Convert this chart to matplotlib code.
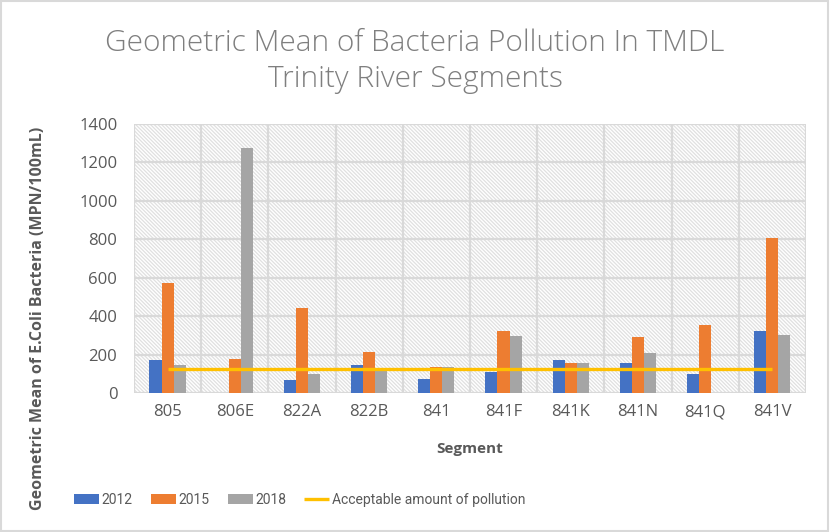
import matplotlib
matplotlib.use('Agg')
import matplotlib.pyplot as plt
import numpy as np
from matplotlib.patches import Rectangle

segments = ['805', '806E', '822A', '822B', '841', '841F', '841K', '841N', '841Q', '841V']
years = ['2012', '2015', '2018']
vals_2012 = [173, 0, 69, 147, 75, 110, 173, 158, 100, 324]
vals_2015 = [574, 178, 444, 215, 137, 324, 158, 293, 355, 808]
vals_2018 = [147, 1275, 100, 113, 137, 298, 158, 210, 0, 303]
acceptable = 126

bar_colors = ['#4472C4', '#ED7D31', '#A5A5A5']
line_color = '#FFC000'
text_color = '#595959'
grid_color = '#D9D9D9'

plt.rcParams['font.family'] = ['Open Sans', 'DejaVu Sans']
plt.rcParams['hatch.color'] = '#E0E0E0'
plt.rcParams['hatch.linewidth'] = 0.9

fig = plt.figure(figsize=(8.3, 5.32), dpi=100)
ax = fig.add_axes([0.1614, 0.2613, 0.8096, 0.5057])

x = np.arange(len(segments))
w = 0.18

# hatched plot area
ax.add_patch(Rectangle((0, 0), 1, 1, transform=ax.transAxes, facecolor='white',
                       hatch='\\' * 9, edgecolor='#E0E0E0', linewidth=0, zorder=0))

handles = []
for i, (vals, col) in enumerate(zip([vals_2012, vals_2015, vals_2018], bar_colors)):
    b = ax.bar(x + (i - 1) * w, vals, w, color=col, label=years[i], zorder=3)
    handles.append(b)

ln, = ax.plot(x, [acceptable] * len(x), color=line_color, lw=2.4, zorder=4,
              label='Acceptable amount of pollution', solid_capstyle='butt')
handles.append(ln)

ax.set_xlim(-0.5, len(segments) - 0.5)
ax.set_ylim(0, 1400)
ax.set_yticks(range(0, 1401, 200))
ax.set_xticks(x)
ax.set_xticklabels(segments)
for xv in np.arange(-0.5, len(segments), 1.0):
    ax.axvline(xv, color=grid_color, lw=1.6, zorder=1)
for yv in range(0, 1401, 200):
    ax.axhline(yv, color=grid_color, lw=1.6, zorder=1)
for s in ax.spines.values():
    s.set_visible(False)
ax.tick_params(length=0, labelsize=12, colors=text_color)
ax.tick_params(axis='x', pad=8)
ax.tick_params(axis='y', pad=12)

ax.set_xlabel('Segment', fontsize=11, fontweight='bold', color=text_color, labelpad=16)
fig.text(0.046, 0.402, 'Geometric Mean of E.Coli Bacteria (MPN/100mL)', rotation=90,
         ha='center', va='center', fontsize=11.5, fontweight='bold', color=text_color)

fig.text(0.5, 0.885, 'Geometric Mean of Bacteria Pollution In TMDL\nTrinity River Segments',
         ha='center', va='center', fontsize=21.5, color='#7F7F7F', fontweight='light',
         linespacing=1.3)

leg = fig.legend(handles, years + ['Acceptable amount of pollution'], loc='center left',
                 bbox_to_anchor=(0.074, 0.06), ncol=4, frameon=False,
                 prop={'family': ['Roboto', 'DejaVu Sans'], 'size': 10},
                 handlelength=1.8, handleheight=0.7, columnspacing=1.3,
                 handletextpad=0.2)
for t in leg.get_texts():
    t.set_color(text_color)

fig.add_artist(Rectangle((0.001, 0.001), 0.997, 0.997, transform=fig.transFigure,
                         fill=False, edgecolor=grid_color, lw=1.5))

fig.savefig('out.png', dpi=100)
